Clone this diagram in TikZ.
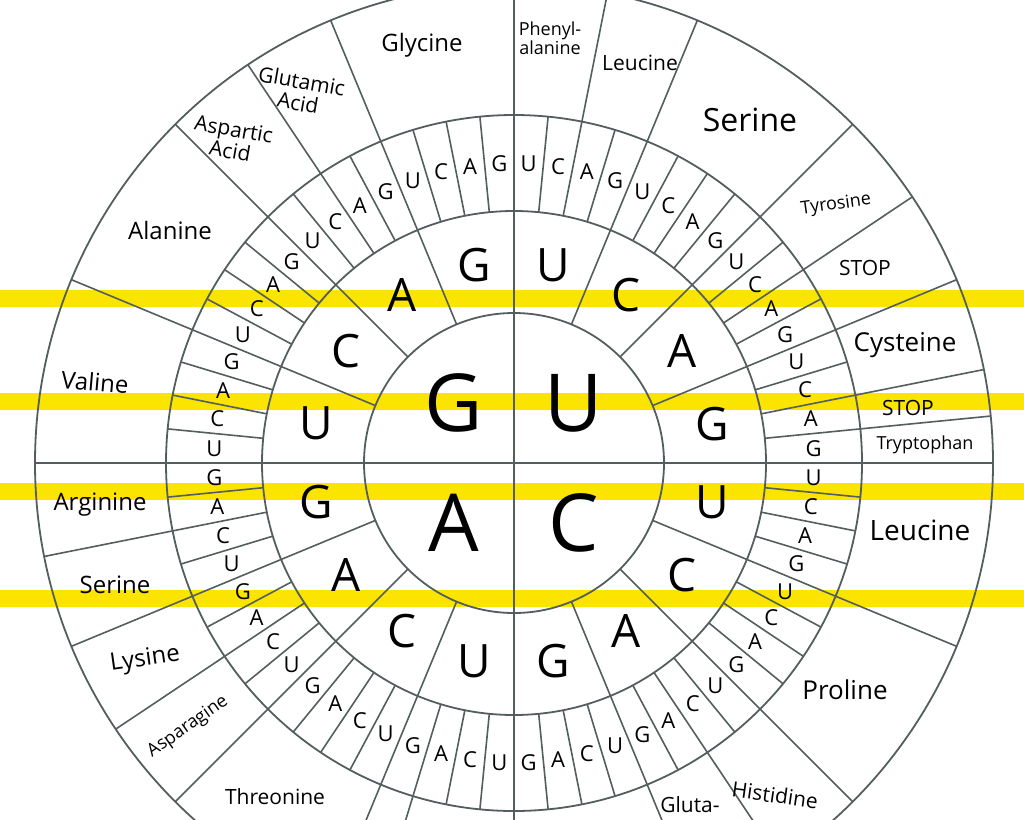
\documentclass[tikz,border=0pt]{standalone}
\usepackage{fontspec}
\setmainfont{Open Sans}
\definecolor{wheelgray}{RGB}{85,94,94}
\definecolor{bandyellow}{RGB}{250,228,0}
\begin{document}
\begin{tikzpicture}[x=1pt,y=-1pt,
  ring/.style={draw=wheelgray,line width=1.8pt},
  spoke/.style={draw=wheelgray,line width=1.6pt},
  band/.style={fill=bandyellow},
  third/.style={font=\fontsize{22}{22}\selectfont,inner sep=0pt},
  second/.style={font=\fontsize{46}{46}\selectfont},
  first/.style={font=\fontsize{80}{80}\selectfont},
  amino/.style={font=\fontsize{21}{22}\selectfont,align=center,inner sep=0pt}]
\useasboundingbox (0,0) rectangle (1024,819);
\clip (0,0) rectangle (1024,819);
\fill[white] (0,0) rectangle (1024,819);
% yellow bands
\foreach \y in {298,401,491,598}
  \fill[band] (0,\y-8.5) rectangle (1024,\y+8.5);
\coordinate (o) at (514,463);
% circles
\draw[ring] (o) circle (150);
\draw[ring] (o) circle (252);
\draw[ring] (o) circle (348);
\draw[ring] (o) circle (479);
% first-letter cross
\draw[spoke] ([shift={(-90:479)}]o) -- ([shift={(90:479)}]o);
\draw[spoke] ([shift={(180:479)}]o) -- ([shift={(0:479)}]o);
% second ring spokes
\foreach \i in {1,2,3,5,6,7,9,10,11,13,14,15}
  \draw[spoke] ([shift={(\i*22.5-90:150)}]o) -- ([shift={(\i*22.5-90:252)}]o);
% third ring spokes
\foreach \i in {0,...,63}
  \draw[spoke] ([shift={(\i*5.625-90:252)}]o) -- ([shift={(\i*5.625-90:348)}]o);
% amino acid boundaries
\foreach \t in {11.25,22.5,45,56.25,67.5,78.75,84.375,112.5,135,146.25,157.5,196.875,202.5,225,236.25,247.5,258.75,292.5,315,326.25,337.5}
  \draw[spoke] ([shift={(\t-90:348)}]o) -- ([shift={(\t-90:479)}]o);
% letters
\foreach \f [count=\a from 0] in {U,C,A,G}
  \node[first] (f\a) at ([shift={(\a*90+45-90:85)}]o) {\f};
\foreach \q in {0,...,3}
  \foreach \s [count=\b from 0] in {U,C,A,G}
    \node[second] (s\q\b) at ([shift={(\q*90+\b*22.5+11.25-90:202)}]o) {\s};
\foreach \q in {0,...,15}
  \foreach \s [count=\b from 0] in {U,C,A,G}
    \node[third] (t\q\b) at ([shift={(\q*22.5+\b*5.625+2.8125-90:300)}]o) {\s};
% amino acids
\node[amino,font=\fontsize{18}{17}\selectfont] (phe) at (550,38) {Phenyl-\\alanine};
\node[amino] (leu1) at (640,63) {Leucine};
\node[amino,font=\fontsize{32}{32}\selectfont] (ser1) at (750,120) {Serine};
\node[amino,font=\fontsize{18}{18}\selectfont,rotate=8] (tyr) at (836,205) {Tyrosine};
\node[amino] (stop1) at (865,268) {STOP};
\node[amino,font=\fontsize{26}{26}\selectfont] (cys) at (905,345) {Cysteine};
\node[amino] (stop2) at (908,408) {STOP};
\node[amino,font=\fontsize{18}{18}\selectfont] (trp) at (925,445) {Tryptophan};
\node[amino,font=\fontsize{28}{28}\selectfont] (leu2) at (920,530) {Leucine};
\node[amino,font=\fontsize{26}{26}\selectfont] (pro) at (845,690) {Proline};
\node[amino,rotate=-8] (his) at (775,795) {Histidine};
\node[amino] (gln) at (690,805) {Gluta-};
\node[amino] (thr) at (275,797) {Threonine};
\node[amino,font=\fontsize{18}{18}\selectfont,rotate=35] (asn) at (188,727) {Asparagine};
\node[amino,font=\fontsize{24}{24}\selectfont,rotate=8] (lys) at (145,660) {Lysine};
\node[amino,font=\fontsize{24}{24}\selectfont] (ser2) at (115,585) {Serine};
\node[amino,font=\fontsize{24}{24}\selectfont] (arg) at (100,505) {Arginine};
\node[amino,font=\fontsize{24}{24}\selectfont,rotate=-5] (val) at (95,382) {Valine};
\node[amino,font=\fontsize{24}{24}\selectfont] (ala) at (170,230) {Alanine};
\node[amino,rotate=-10] (asp) at (232,140) {Aspartic\\Acid};
\node[amino,rotate=-10] (glu) at (300,92) {Glutamic\\Acid};
\node[amino,font=\fontsize{24}{24}\selectfont] (gly) at (422,45) {Glycine};
\end{tikzpicture}
\end{document}
